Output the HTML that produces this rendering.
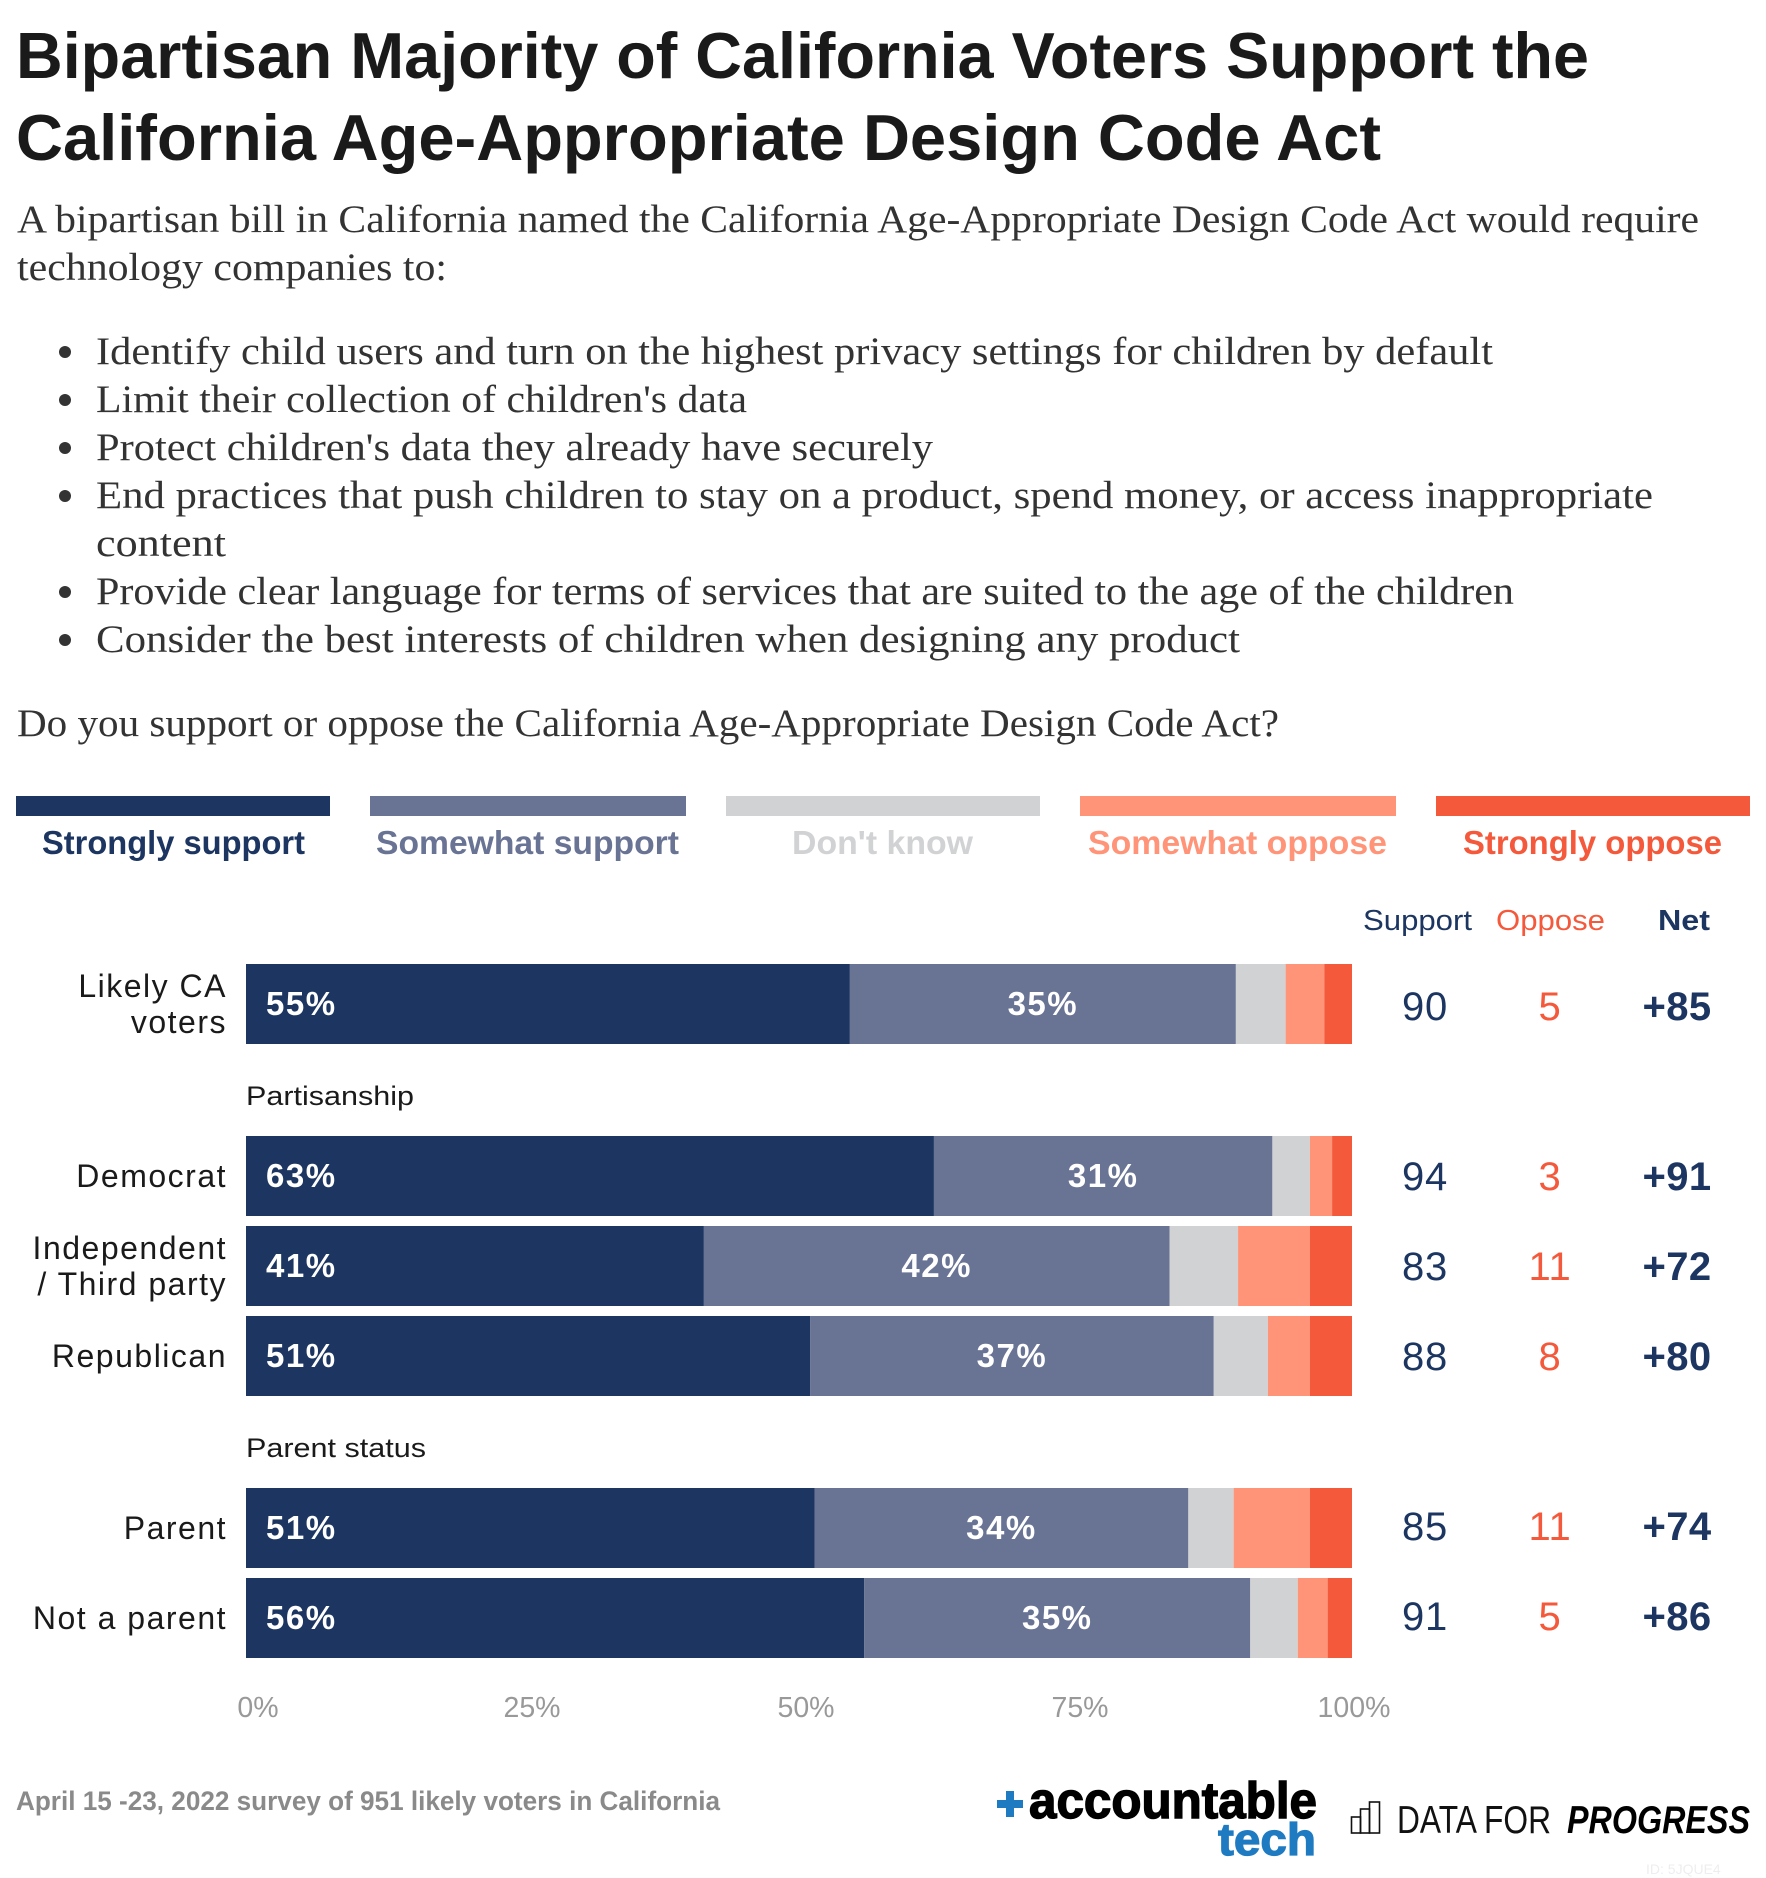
<!DOCTYPE html>
<html lang="en">
<head>
<meta charset="utf-8">
<title>Bipartisan Majority of California Voters Support the California Age-Appropriate Design Code Act</title>
<style>
html,body{margin:0;padding:0;background:#fff;width:1766px;height:1878px;overflow:hidden}
svg{display:block}
text{font-family:"Liberation Sans",sans-serif}
.title{font-size:65px;font-weight:700;fill:#1a1a1a}
.body{font-family:"Liberation Serif",serif;font-size:39px;fill:#333}
.legend{font-size:33px;font-weight:700}
.head{font-size:29px}
.cat{font-size:32px;fill:#1a1a1a;letter-spacing:1.5px;text-anchor:end}
.sect{font-size:27px;fill:#1a1a1a}
.pct{font-size:33px;font-weight:700;fill:#fff;letter-spacing:1.5px}
.val{font-size:40px;text-anchor:middle;letter-spacing:.8px}
.net{font-weight:700;letter-spacing:.4px}
.tick{font-size:28.5px;fill:#999;text-anchor:middle}
</style>
</head>
<body>
<svg id="chart" xmlns="http://www.w3.org/2000/svg" width="1766" height="1878" viewBox="0 0 1766 1878">
  <text class="title" x="16" y="78" textLength="1573" lengthAdjust="spacingAndGlyphs">Bipartisan Majority of California Voters Support the</text>
  <text class="title" x="16" y="160" textLength="1365" lengthAdjust="spacingAndGlyphs">California Age-Appropriate Design Code Act</text>

  <text class="body" x="17" y="232" textLength="1682" lengthAdjust="spacingAndGlyphs">A bipartisan bill in California named the California Age-Appropriate Design Code Act would require</text>
  <text class="body" x="17" y="280" textLength="430" lengthAdjust="spacingAndGlyphs">technology companies to:</text>

  <circle cx="65" cy="352" r="6" fill="#333"/>
  <text class="body" x="96" y="364" textLength="1397" lengthAdjust="spacingAndGlyphs">Identify child users and turn on the highest privacy settings for children by default</text>
  <circle cx="65" cy="400" r="6" fill="#333"/>
  <text class="body" x="96" y="412" textLength="651" lengthAdjust="spacingAndGlyphs">Limit their collection of children's data</text>
  <circle cx="65" cy="448" r="6" fill="#333"/>
  <text class="body" x="96" y="460" textLength="837" lengthAdjust="spacingAndGlyphs">Protect children's data they already have securely</text>
  <circle cx="65" cy="496" r="6" fill="#333"/>
  <text class="body" x="96" y="508" textLength="1557" lengthAdjust="spacingAndGlyphs">End practices that push children to stay on a product, spend money, or access inappropriate</text>
  <text class="body" x="96" y="556" textLength="130" lengthAdjust="spacingAndGlyphs">content</text>
  <circle cx="65" cy="592" r="6" fill="#333"/>
  <text class="body" x="96" y="604" textLength="1418" lengthAdjust="spacingAndGlyphs">Provide clear language for terms of services that are suited to the age of the children</text>
  <circle cx="65" cy="640" r="6" fill="#333"/>
  <text class="body" x="96" y="652" textLength="1144" lengthAdjust="spacingAndGlyphs">Consider the best interests of children when designing any product</text>

  <text class="body" x="17" y="736" textLength="1262" lengthAdjust="spacingAndGlyphs">Do you support or oppose the California Age-Appropriate Design Code Act?</text>

  <g>
    <rect x="16" y="796" width="314" height="20" fill="#1c3661"/>
    <text class="legend" x="42" y="854" fill="#1c3661" textLength="263" lengthAdjust="spacingAndGlyphs">Strongly support</text>
    <rect x="370" y="796" width="316" height="20" fill="#697394"/>
    <text class="legend" x="376" y="854" fill="#697394" textLength="303" lengthAdjust="spacingAndGlyphs">Somewhat support</text>
    <rect x="726" y="796" width="314" height="20" fill="#d1d2d4"/>
    <text class="legend" x="792" y="854" fill="#d1d2d4" textLength="181" lengthAdjust="spacingAndGlyphs">Don't know</text>
    <rect x="1080" y="796" width="316" height="20" fill="#ff9478"/>
    <text class="legend" x="1088" y="854" fill="#ff9478" textLength="299" lengthAdjust="spacingAndGlyphs">Somewhat oppose</text>
    <rect x="1436" y="796" width="314" height="20" fill="#f4593b"/>
    <text class="legend" x="1463" y="854" fill="#f4593b" textLength="259" lengthAdjust="spacingAndGlyphs">Strongly oppose</text>
  </g>

  <text class="head" x="1363" y="930" fill="#1c3661" textLength="109" lengthAdjust="spacingAndGlyphs">Support</text>
  <text class="head" x="1496" y="930" fill="#f4593b" textLength="109" lengthAdjust="spacingAndGlyphs">Oppose</text>
  <text class="head" x="1658" y="930" fill="#1c3661" font-weight="700" textLength="52" lengthAdjust="spacingAndGlyphs">Net</text>

  <text class="sect" x="246" y="1105" textLength="168" lengthAdjust="spacingAndGlyphs">Partisanship</text>
  <text class="sect" x="246" y="1457" textLength="180" lengthAdjust="spacingAndGlyphs">Parent status</text>

  <g id="bars"></g>
  <g id="axis"></g>

  <text x="16" y="1810" font-size="26.5" font-weight="700" fill="#8a8a8a" textLength="704" lengthAdjust="spacingAndGlyphs">April 15 -23, 2022 survey of 951 likely voters in California</text>

  <g>
    <rect x="997" y="1800" width="26" height="8" fill="#1f7bc1"/>
    <rect x="1006" y="1791" width="8" height="26" fill="#1f7bc1"/>
    <text x="1029" y="1818" font-size="51" font-weight="700" fill="#000" stroke="#000" stroke-width="1.4" textLength="288" lengthAdjust="spacingAndGlyphs">accountable</text>
    <text x="1218" y="1855" font-size="45" font-weight="700" fill="#1f7bc1" stroke="#1f7bc1" stroke-width="1.2" textLength="98" lengthAdjust="spacingAndGlyphs">tech</text>
  </g>

  <g fill="none" stroke="#111" stroke-width="1.6">
    <rect x="1351.5" y="1817" width="9" height="16"/>
    <rect x="1360.5" y="1809" width="9" height="24"/>
    <rect x="1369.5" y="1802" width="10" height="31"/>
    <text x="1397" y="1833" font-size="39" font-weight="400" fill="#111" stroke="none" textLength="154" lengthAdjust="spacingAndGlyphs">DATA FOR</text>
    <text x="1567" y="1833" font-size="39" font-weight="700" font-style="italic" fill="#000" stroke="none" textLength="183" lengthAdjust="spacingAndGlyphs">PROGRESS</text>
  </g>

  <text x="1646" y="1874" font-size="14" fill="#eeeeee">ID: 5JQUE4</text>
</svg>

<script>
// Chart data: one value per row, in reading order.
const rowLabels = [["Likely CA","voters"],["Democrat"],["Independent","/ Third party"],["Republican"],["Parent"],["Not a parent"]];
const stronglySupport = [54.6, 62.2, 41.4, 51.0, 51.4, 55.9];
const somewhatSupport = [34.9, 30.6, 42.1, 36.5, 33.8, 34.9];
const dontKnow        = [4.5, 3.4, 6.2, 4.9, 4.1, 4.3];
const somewhatOppose  = [3.5, 2.0, 6.5, 3.8, 6.9, 2.7];
const stronglyOppose  = [2.5, 1.8, 3.8, 3.8, 3.8, 2.2];
const stronglyLabels  = ["55%","63%","41%","51%","51%","56%"];
const somewhatLabels  = ["35%","31%","42%","37%","34%","35%"];
const supportTotals   = [90, 94, 83, 88, 85, 91];
const opposeTotals    = [5, 3, 11, 8, 11, 5];
const netTotals       = ["+85","+91","+72","+80","+74","+86"];
const tickValues      = [0, 25, 50, 75, 100];
const tickLabels      = ["0%","25%","50%","75%","100%"];

const SVG_NS = "http://www.w3.org/2000/svg";
const plotLeft = 246, plotWidth = 1106;
const xScale = v => plotLeft + v / 100 * plotWidth;
// tick labels sit on a slightly inset copy of the value axis
const tickScale = v => 258 + v / 100 * 1096;
// rows are evenly stepped inside three visual groups
const rowGroup = [0, 1, 1, 1, 2, 2];
const rowIndexInGroup = [0, 0, 1, 2, 0, 1];
const groupTop = [964, 1136, 1488];
const rowHeight = 80, rowStep = 90;
const yScale = i => groupTop[rowGroup[i]] + rowIndexInGroup[i] * rowStep;

const seriesList = [stronglySupport, somewhatSupport, dontKnow, somewhatOppose, stronglyOppose];
const seriesNames = ["strongly-support","somewhat-support","dont-know","somewhat-oppose","strongly-oppose"];
const seriesColors = ["#1c3661","#697394","#d1d2d4","#ff9478","#f4593b"];

const barsLayer = document.getElementById("bars");
const axisLayer = document.getElementById("axis");

function addText(parent, cls, x, y, content, fill) {
  const t = document.createElementNS(SVG_NS, "text");
  t.setAttribute("class", cls);
  t.setAttribute("x", x);
  t.setAttribute("y", y);
  if (fill) t.setAttribute("fill", fill);
  t.textContent = content;
  parent.appendChild(t);
  return t;
}

rowLabels.forEach((lines, i) => {
  const top = yScale(i);
  const row = document.createElementNS(SVG_NS, "g");
  
  
  barsLayer.appendChild(row);

  lines.forEach((line, l) => {
    const baseline = lines.length === 1 ? top + 51 : top + 33 + l * 36;
    const label = addText(row, "cat", 227, baseline, line);
    
    
  });

  let cumulative = 0;
  seriesList.forEach((series, s) => {
    const start = cumulative;
    cumulative += series[i];
    const seg = document.createElementNS(SVG_NS, "rect");
    seg.setAttribute("x", xScale(start));
    seg.setAttribute("y", top);
    seg.setAttribute("width", xScale(cumulative) - xScale(start));
    seg.setAttribute("height", rowHeight);
    seg.setAttribute("fill", seriesColors[s]);
    
    
    row.appendChild(seg);
  });

  const strongPct = addText(row, "pct", xScale(0) + 20, top + 51, stronglyLabels[i]);
  
  

  const midX = (xScale(stronglySupport[i]) + xScale(stronglySupport[i] + somewhatSupport[i])) / 2;
  const midPct = addText(row, "pct", midX, top + 51, somewhatLabels[i]);
  midPct.setAttribute("text-anchor", "middle");
  
  

  const base = top + 56 - 2 * rowGroup[i];
  const sup = addText(row, "val", 1425, base, supportTotals[i], "#1c3661");
  
  
  const opp = addText(row, "val", 1550, base, opposeTotals[i], "#f4593b");
  
  
  const net = addText(row, "val net", 1677, base, netTotals[i], "#1c3661");
  
  
});

tickValues.forEach((v, i) => {
  const tick = addText(axisLayer, "tick", tickScale(v), 1717, tickLabels[i]);
  
  
});
</script>
</body>
</html>
